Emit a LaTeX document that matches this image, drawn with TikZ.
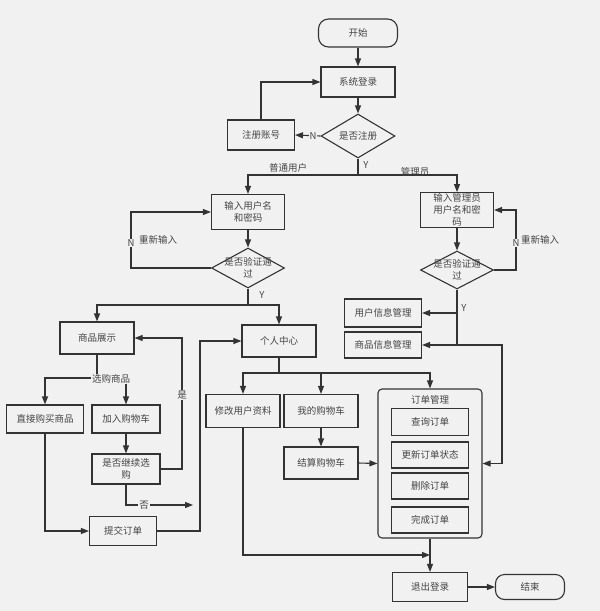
\documentclass[tikz,border=0pt]{standalone}
\usepackage{fontspec}
\newfontfamily\cjk{Noto Sans CJK SC}
\usetikzlibrary{arrows.meta,shapes.geometric}
\definecolor{bg}{RGB}{241,241,241}
\definecolor{ln}{RGB}{51,51,51}
\definecolor{tx}{RGB}{68,68,68}
\tikzset{
  base/.style={draw=ln,line width=1.1pt,text=tx,font=\cjk\fontsize{9.5}{12}\selectfont,inner sep=1pt,align=center},
  box/.style={base,rectangle},
  term/.style={base,rectangle,rounded corners=10pt},
  dia/.style={base,diamond,inner sep=0pt},
  cont/.style={base,rectangle,rounded corners=4pt},
  lab/.style={text=tx,font=\cjk\fontsize{9.5}{12}\selectfont,inner sep=1pt,align=center},
  labf/.style={lab,fill=bg},
  conn/.style={draw=ln,line width=1.1pt},
  arr/.style={conn,-{Triangle[length=8pt,width=6pt]}}
}
\begin{document}
\begin{tikzpicture}[x=1pt,y=-1pt]
\fill[bg] (0,0) rectangle (600,611);
\useasboundingbox (0,0) rectangle (600,611);
% top
\node[term,minimum width=79pt,minimum height=28pt] (start) at (358,33) {开始};
\node[box,minimum width=74pt,minimum height=30pt] (login) at (358,82) {系统登录};
\node[dia,minimum width=74pt,minimum height=44pt] (q1) at (358,136) {};
\node[lab] (q1t) at (q1) {是否注册};
\node[box,minimum width=67pt,minimum height=30pt] (reg) at (261,135) {注册账号};
% user side
\node[box,minimum width=73pt,minimum height=35pt] (userin) at (248,212) {输入用户名\\和密码};
\node[dia,minimum width=73pt,minimum height=40pt] (q2) at (248,268) {};
\node[lab] (q2t) at (q2) {是否验证通\\过};
% admin side
\node[box,minimum width=73pt,minimum height=34pt] (adminin) at (457,210) {输入管理员\\用户名和密\\码};
\node[dia,minimum width=73pt,minimum height=38pt] (q3) at (457,270) {};
\node[lab] (q3t) at (q3) {是否验证通\\过};
\node[box,minimum width=77pt,minimum height=28pt] (uinfo) at (383,313) {用户信息管理};
\node[box,minimum width=77pt,minimum height=26pt] (ginfo) at (383,345) {商品信息管理};
% goods
\node[box,minimum width=74pt,minimum height=32pt] (goods) at (97,338) {商品展示};
\node[box,minimum width=77pt,minimum height=28pt] (buy) at (45,419) {直接购买商品};
\node[box,minimum width=68pt,minimum height=28pt] (cart) at (126,419) {加入购物车};
\node[box,minimum width=68pt,minimum height=30pt] (more) at (126,469) {是否继续选\\购};
\node[box,minimum width=67pt,minimum height=29pt] (submit) at (123,531) {提交订单};
% personal center
\node[box,minimum width=74pt,minimum height=32pt] (center) at (279,341) {个人中心};
\node[box,minimum width=74pt,minimum height=33pt] (modify) at (243,411) {修改用户资料};
\node[box,minimum width=74pt,minimum height=33pt] (mycart) at (321,411) {我的购物车};
\node[box,minimum width=74pt,minimum height=32pt] (settle) at (321,463) {结算购物车};
\node[cont,minimum width=104pt,minimum height=149pt] (orders) at (430,463.5) {};
\node[lab] (otitle) at (430,400) {订单管理};
\node[box,minimum width=77pt,minimum height=27pt] (o1) at (430,422) {查询订单};
\node[box,minimum width=77pt,minimum height=26pt] (o2) at (430,455) {更新订单状态};
\node[box,minimum width=77pt,minimum height=26pt] (o3) at (430,486) {删除订单};
\node[box,minimum width=77pt,minimum height=26pt] (o4) at (430,520) {完成订单};
\node[box,minimum width=75pt,minimum height=29pt] (logout) at (430,587) {退出登录};
\node[term,minimum width=69pt,minimum height=25pt,rounded corners=9pt] (end) at (530,587) {结束};
% coordinates
\coordinate (j1) at (358,175);
\coordinate (n2) at (131,268);
\coordinate (j2) at (248,305);
\coordinate (j3) at (97,378);
\coordinate (yes) at (182,469);
\coordinate (no) at (193,505);
\coordinate (s1) at (200,531);
\coordinate (j4) at (279,373);
\coordinate (n3) at (516,270);
\coordinate (j5) at (457,313);
\coordinate (j6) at (457,345);
\coordinate (r1) at (502,345);
\coordinate (m1) at (430,555);
% connectors
\draw[arr] (start) -- (login);
\draw[arr] (login) -- (q1);
\draw[arr] (q1.west) -- (reg.east);
\node[labf] (lN1) at (313,136) {N};
\draw[arr] (reg.north) |- (login.west);
\draw[conn] (q1.south) -- (j1);
\draw[arr] (j1) -| (userin.north);
\draw[arr] (j1) -| (adminin.north);
\node[lab] (lY1) at (366,165) {Y};
\node[lab] (lpu) at (288,168) {普通用户};
\node[lab] (ladm) at (415,172) {管理员};
% user verify
\draw[arr] (userin) -- (q2);
\draw[arr] (q2.west) -- (n2) |- (userin.west);
\node[labf] (lN2) at (131,243) {N};
\node[lab] (lre2) at (158,240) {重新输入};
\draw[conn] (q2.south) -- (j2);
\node[lab] (lY2) at (262,295) {Y};
\draw[arr] (j2) -| (goods.north);
\draw[arr] (j2) -| (center.north);
% goods flow
\draw[conn] (goods.south) -- (j3);
\draw[arr] (j3) -| (buy.north);
\draw[arr] (j3) -| (cart.north);
\node[labf] (lsel) at (111,379) {选购商品};
\draw[arr] (cart) -- (more);
\draw[arr] (more.east) -- (yes) |- (goods.east);
\node[labf] (lyes) at (182,395) {是};
\draw[arr] (more.south) |- (no);
\node[labf] (lno) at (144,505) {否};
\draw[arr] (buy.south) |- (submit.west);
\draw[arr] (submit.east) -- (s1) |- (center.west);
% personal center
\draw[conn] (center.south) -- (j4);
\draw[arr] (j4) -| (modify.north);
\draw[arr] (j4) -| (mycart.north);
\draw[arr] (j4) -| (orders.north);
\draw[arr] (mycart) -- (settle);
\draw[arr] (settle.east) -- (orders.west);
% admin
\draw[arr] (adminin) -- (q3);
\draw[arr] (q3.east) -- (n3) |- (adminin.east);
\node[labf] (lN3) at (516,243) {N};
\node[lab] (lre3) at (540,240) {重新输入};
\draw[conn] (q3.south) -- (j6);
\node[lab] (lY3) at (464,308) {Y};
\draw[arr] (j5) -- (uinfo.east);
\draw[arr] (j6) -- (ginfo.east);
\draw[arr] (j6) -- (r1) |- (orders.east);
% exit
\draw[arr] (orders.south) -- (logout.north);
\draw[arr] (modify.south) |- (m1);
\draw[arr] (logout.east) -- (end.west);
\end{tikzpicture}
\end{document}
